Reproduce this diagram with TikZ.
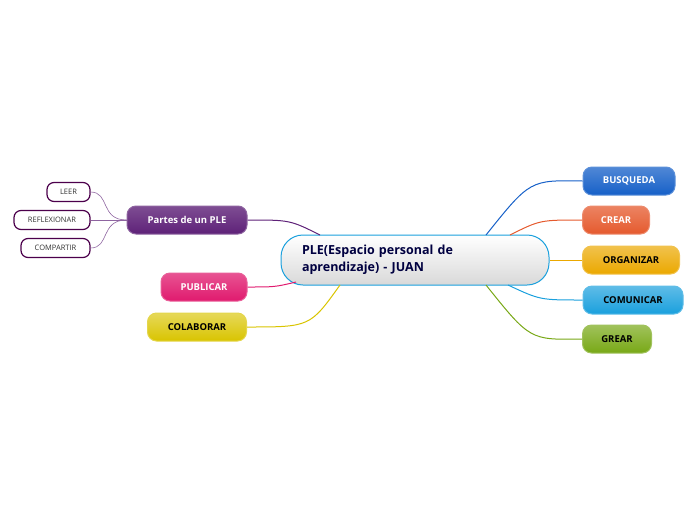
\documentclass[tikz,border=0pt]{standalone}
\usepackage{fontspec}
\setmainfont{Open Sans}
\begin{document}
\begin{tikzpicture}[x=1pt,y=-1pt,
 topic/.style={rounded corners=9pt,draw=#1!70!white,line width=1pt,font=\bfseries\fontsize{9.5}{11}\selectfont,minimum height=28pt,inner xsep=0pt,anchor=center},
 sub/.style={rounded corners=7pt,draw=violet!60!black,line width=1.2pt,fill=white,font=\fontsize{7.5}{9}\selectfont,minimum height=19pt,text=black!80,inner xsep=0pt},
 conn/.style={line width=1pt}]
\useasboundingbox (0,0) rectangle (696,520);
\definecolor{pur}{HTML}{5E2178}
\definecolor{pink}{HTML}{E01A6E}
\definecolor{yel}{HTML}{D9C400}
\definecolor{blu}{HTML}{1660C8}
\definecolor{ora}{HTML}{E55A2E}
\definecolor{gold}{HTML}{EBA800}
\definecolor{cya}{HTML}{1AA0DD}
\definecolor{grn}{HTML}{78A816}
\node[draw=cya,line width=1pt,rounded corners=22pt,top color=white,bottom color=black!15,minimum width=268pt,minimum height=50pt,font=\bfseries\fontsize{12.5}{17}\selectfont,text=blue!25!black,align=left,text width=250pt] (c) at (415,260) {\hspace*{12pt}PLE(Espacio personal de\\\hspace*{12pt}aprendizaje) - JUAN};
\node[topic=blu,top color=blu!75!white,bottom color=blu,text=white,minimum width=92pt] (bus) at (629,181) {BUSQUEDA};
\node[topic=ora,top color=ora!75!white,bottom color=ora,text=white,minimum width=67pt] (cre) at (616,220) {CREAR};
\node[topic=gold,top color=gold!70!white,bottom color=gold,text=black,minimum width=97pt] (org) at (631,260) {ORGANIZAR};
\node[topic=cya,top color=cya!70!white,bottom color=cya,text=black,minimum width=100pt] (com) at (633,300) {COMUNICAR};
\node[topic=grn,top color=grn!70!white,bottom color=grn,text=black,minimum width=69pt] (gre) at (617,339) {GREAR};
\node[topic=pur,top color=pur!80!white,bottom color=pur,text=white,minimum width=120pt] (par) at (187,220) {Partes de un PLE};
\node[topic=pink,top color=pink!75!white,bottom color=pink,text=white,minimum width=86pt] (pub) at (204,287) {PUBLICAR};
\node[topic=yel,top color=yel!65!white,bottom color=yel,text=black,minimum width=99pt] (col) at (197,327) {COLABORAR};
\node[sub,minimum width=43pt] (lee) at (68.5,192) {LEER};
\node[sub,minimum width=76pt] (ref) at (52,220) {REFLEXIONAR};
\node[sub,minimum width=69pt] (cmp) at (55.5,248) {COMPARTIR};
\coordinate (cb) at (486,235); \coordinate (cc) at (510,235);
\coordinate (cm) at (508,285); \coordinate (cg) at (486,285);
\coordinate (cp) at (320,235); \coordinate (cu) at (296,282); \coordinate (cl) at (340,285);
\draw[conn,blu] (cb) .. controls (530,180) .. (bus.west);
\draw[conn,ora] (cc) .. controls (540,220) .. (cre.west);
\draw[conn,gold] (c.east) -- (org.west);
\draw[conn,cya] (cm) .. controls (540,300) .. (com.west);
\draw[conn,grn] (cg) .. controls (530,340) .. (gre.west);
\draw[conn,pur] (par.east) .. controls (290,220) .. (cp);
\draw[conn,pink] (pub.east) .. controls (275,287) .. (cu);
\draw[conn,yel] (col.east) .. controls (310,327) .. (cl);
\draw[pur!70!white,line width=0.6pt] (par.west) .. controls (100,220) and (110,192) .. (lee.east);
\draw[pur!70!white,line width=0.6pt] (par.west) -- (ref.east);
\draw[pur!70!white,line width=0.6pt] (par.west) .. controls (100,220) and (110,248) .. (cmp.east);
\end{tikzpicture}
\end{document}
